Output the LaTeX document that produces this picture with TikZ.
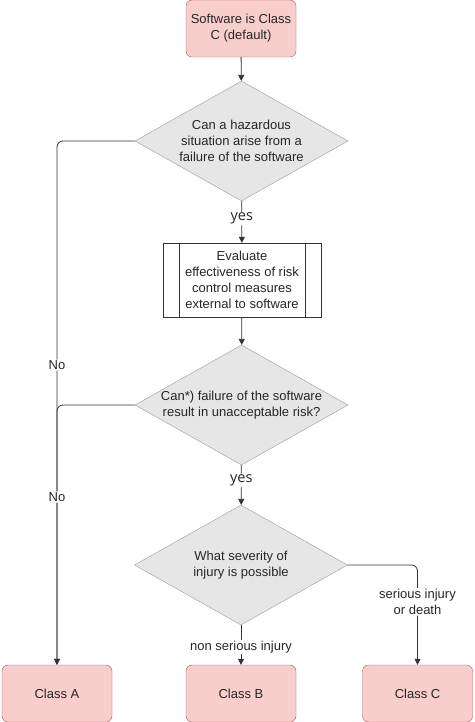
\documentclass[tikz,border=0pt]{standalone}
\usepackage{fontspec}
\setmainfont{Liberation Sans}
\newfontfamily\yesfont{Open Sans}
\usetikzlibrary{shapes.geometric,arrows.meta}

\definecolor{classfill}{HTML}{F8CECC}
\definecolor{classdraw}{HTML}{B85450}
\definecolor{askfill}{HTML}{E6E6E6}
\definecolor{askdraw}{HTML}{9A9A9A}
\definecolor{linegray}{HTML}{333333}

\begin{document}
\begin{tikzpicture}[x=1pt, y=-1pt,
    every node/.style={font=\fontsize{13}{16}\selectfont, align=center, text=black!85},
    classbox/.style={rectangle, rounded corners=6pt, draw=classdraw, fill=classfill,
        minimum width=110pt, minimum height=57pt, inner sep=0pt},
    ask/.style={diamond, aspect=1.78, draw=askdraw, fill=askfill,
        minimum width=213pt, minimum height=120pt, inner sep=0pt},
    process/.style={rectangle, draw=black!80, fill=white, minimum width=158pt,
        minimum height=74pt, inner sep=0pt,
        path picture={\draw[black!80]
            ([xshift=16pt]path picture bounding box.north west) --
            ([xshift=16pt]path picture bounding box.south west)
            ([xshift=-16pt]path picture bounding box.north east) --
            ([xshift=-16pt]path picture bounding box.south east);}},
    flow/.style={draw=linegray, line width=0.8pt, rounded corners=6pt,
        -{Triangle[length=6pt,width=6pt]}},
    lbl/.style={fill=white, inner sep=1pt},
    yeslbl/.style={lbl, font=\yesfont\fontsize{14.5}{16}\selectfont}
    ]

    \useasboundingbox[fill=white] (0,0) rectangle (474,722);

    % Decisions down the middle
    \node[classbox] (start) at (241,28.5) {Software is Class\\C (default)};
    \node[ask] (hazard) at (241.5,141) {Can a hazardous\\situation arise from a\\failure of the software};
    \node[process] (evaluate) at (242,280) {Evaluate\\effectiveness of risk\\control measures\\external to software};
    \node[ask] (risk) at (241.5,405) {Can*) failure of the software\\result in unacceptable risk?};
    \node[ask] (severity) at (241,565) {What severity of\\injury is possible};

    % Outcomes
    \node[classbox] (classA) at (57,693.5) {Class A};
    \node[classbox] (classB) at (241,693.5) {Class B};
    \node[classbox] (classC) at (417.5,693.5) {Class C};

    % Connectors
    \draw[flow] (start) -- (hazard);
    \draw[flow] (hazard) -- node[yeslbl, pos=0.42] {yes} (evaluate);
    \draw[flow] (evaluate) -- (risk);
    \draw[flow] (risk) -- node[yeslbl, pos=0.38] {yes} (severity);
    \draw[flow] (hazard.west) -| node[lbl, pos=0.714] {No} (classA.north);
    \draw[flow] (risk.west) -| node[lbl, pos=0.677] {No} (classA.north);
    \draw[flow] (severity) -- node[lbl, pos=0.55] {non serious injury} (classB);
    \draw[flow] (severity.east) -| node[lbl, pos=0.685] {serious injury\\or death} (classC.north);
\end{tikzpicture}
\end{document}
